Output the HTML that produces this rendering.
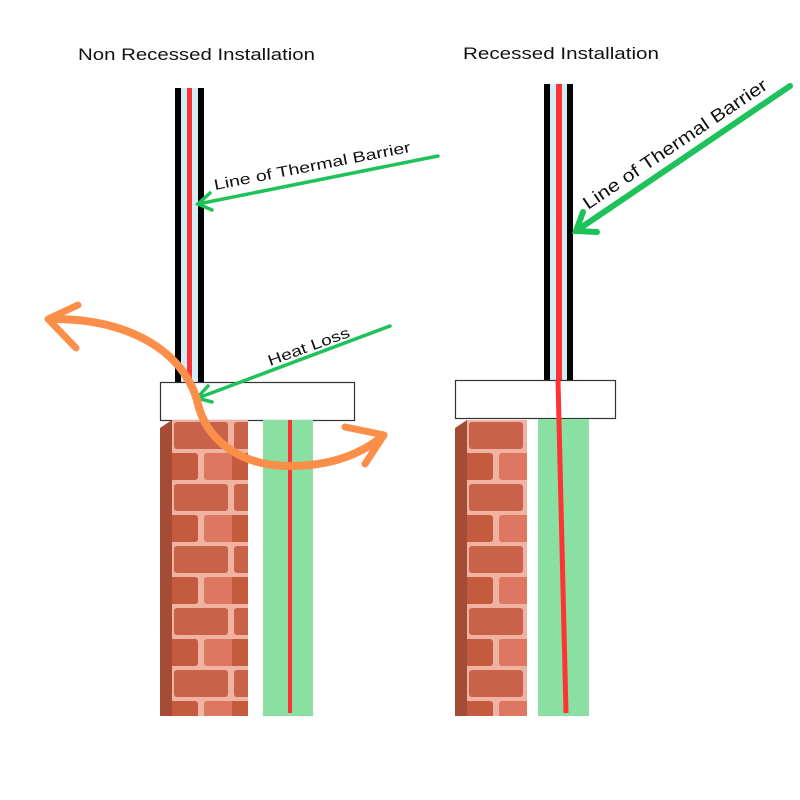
<!DOCTYPE html>
<html><head><meta charset="utf-8"><style>
html,body{margin:0;padding:0;background:#fff}
svg{display:block}
text{font-family:"Liberation Sans",sans-serif;fill:#111}
</style></head><body>
<svg width="800" height="800" viewBox="0 0 800 800" xmlns="http://www.w3.org/2000/svg">
<defs>
<pattern id="br" x="172" y="420" width="60" height="62" patternUnits="userSpaceOnUse">
<rect width="60" height="62" fill="#f0b3a2"/>
<rect x="2" y="2" width="54" height="27" rx="3" fill="#c8634a"/>
<rect x="-28" y="33" width="54" height="27" rx="3" fill="#c45a3e"/>
<rect x="32" y="33" width="54" height="27" rx="3" fill="#de7760"/>
</pattern>
<pattern id="br2" x="467" y="420" width="60" height="62" patternUnits="userSpaceOnUse">
<rect width="60" height="62" fill="#f0b3a2"/>
<rect x="2" y="2" width="54" height="27" rx="3" fill="#c8634a"/>
<rect x="-28" y="33" width="54" height="27" rx="3" fill="#c45a3e"/>
<rect x="32" y="33" width="54" height="27" rx="3" fill="#de7760"/>
</pattern>
</defs>

<text x="78" y="60" font-size="17" textLength="237" lengthAdjust="spacingAndGlyphs">Non Recessed Installation</text>
<text x="463" y="59" font-size="17" textLength="196" lengthAdjust="spacingAndGlyphs">Recessed Installation</text>

<rect x="175" y="88" width="6" height="294" fill="#000"/>
<rect x="181" y="88" width="17" height="294" fill="#d3eef8"/>
<rect x="187" y="88" width="5" height="294" fill="#f33"/>
<rect x="198" y="88" width="6" height="294" fill="#000"/>
<rect x="544" y="84" width="6" height="296" fill="#000"/>
<rect x="550" y="84" width="17" height="296" fill="#d3eef8"/>
<rect x="556" y="84" width="6" height="296" fill="#f33"/>
<rect x="567" y="84" width="6" height="296" fill="#000"/>

<rect x="160.5" y="382.5" width="194" height="38" fill="#fff" stroke="#333" stroke-width="1.2"/>
<rect x="455.5" y="380.5" width="160" height="38" fill="#fff" stroke="#333" stroke-width="1.2"/>

<rect x="172" y="420" width="76" height="296" fill="url(#br)"/>
<polygon points="160,428 172,420 172,716 160,716" fill="#a44c36"/>
<rect x="467" y="420" width="60" height="296" fill="url(#br2)"/>
<polygon points="455,428 467,420 467,716 455,716" fill="#a44c36"/>

<rect x="263" y="420" width="50" height="296" fill="#8adfa3"/>
<rect x="288" y="420" width="4" height="293" fill="#f33"/>
<rect x="538" y="419" width="51" height="297" fill="#8adfa3"/>
<line x1="558" y1="380" x2="566" y2="713" stroke="#f33" stroke-width="5"/>

<g stroke="#1dc35a" stroke-width="3.5" fill="none" stroke-linecap="round">
<line x1="438" y1="156" x2="198" y2="204"/>
<polyline points="210,193 198,204 212,210"/>
<line x1="390" y1="326" x2="198" y2="398"/>
<polyline points="208,386 197,398 212,402"/>
</g>
<g stroke="#1dc35a" stroke-width="6" fill="none" stroke-linecap="round">
<line x1="790" y1="86" x2="576" y2="231"/>
<polyline points="583,212 576,231 597,232"/>
</g>

<text transform="translate(215,190) rotate(-11)" font-size="15" textLength="200" lengthAdjust="spacingAndGlyphs">Line of Thermal Barrier</text>
<text transform="translate(270,366) rotate(-20)" font-size="15" textLength="86" lengthAdjust="spacingAndGlyphs">Heat Loss</text>
<text transform="translate(588,210) rotate(-34)" font-size="18" textLength="218" lengthAdjust="spacingAndGlyphs">Line of Thermal Barrier</text>

<g stroke="#fb8e48" fill="none" stroke-linecap="round" stroke-linejoin="round">
<path d="M50,319 C120,318 180,345 197,400 C205,440 240,466 290,466 C330,466 360,455 383,436" stroke-width="8"/>
<polyline points="78,305 48,319 76,348" stroke-width="7"/>
<polyline points="345,427 384,435 365,464" stroke-width="7"/>
</g>
</svg>
</body></html>
